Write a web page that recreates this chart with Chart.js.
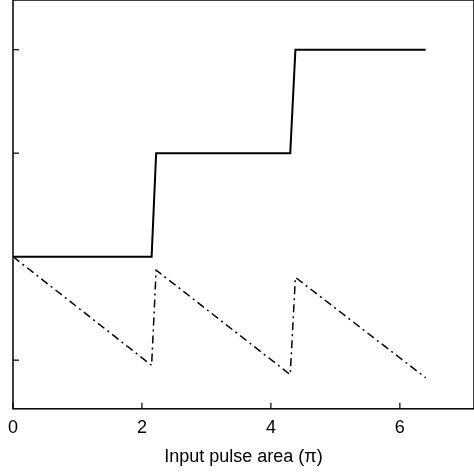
<!DOCTYPE html>
<html><head><meta charset="utf-8">
<script src="https://cdn.jsdelivr.net/npm/chart.js@4/dist/chart.umd.min.js"></script>
<style>html,body{margin:0;background:#fff}#wrap{width:474px;height:474px}</style>
</head><body><div id="wrap"><canvas id="c"></canvas></div>
<script>
const solidX = [0, 2.15, 2.22, 4.3, 4.38, 6.4];
const solidY = [1, 1, 2, 2, 3, 3];
const dashX = [0, 2.15, 2.22, 4.3, 4.38, 6.4];
const dashY = [1, -0.05, 0.87, -0.14, 0.8, -0.17];
const xTicks = [0, 2, 4, 6];
const yTicks = [0, 1, 2, 3];

const pts = (xs, ys) => xs.map((x, i) => ({ x, y: ys[i] }));

const boxPlugin = {
  id: "box",
  afterDraw(c) {
    const a = c.chartArea, ctx = c.ctx;
    ctx.save();
    ctx.strokeStyle = "#000";
    ctx.lineWidth = 1.5;
    ctx.strokeRect(a.left, a.top, a.right - a.left, a.bottom - a.top);
    ctx.restore();
  }
};

new Chart(document.getElementById("c"), {
  type: "scatter",
  data: { datasets: [
    { data: pts(solidX, solidY), showLine: true, borderColor: "#000", borderWidth: 2, pointRadius: 0 },
    { data: pts(dashX, dashY), showLine: true, borderColor: "#000", borderWidth: 1.5, borderDash: [8, 4, 2, 4], pointRadius: 0 }
  ]},
  options: {
    animation: false,
    responsive: true,
    maintainAspectRatio: false,
    layout: { padding: { left: 10, top: 0, right: -2, bottom: 0 } },
    plugins: { legend: { display: false }, tooltip: { enabled: false } },
    scales: {
      x: {
        type: "linear", min: 0, max: 7.15,
        afterBuildTicks: s => { s.ticks = xTicks.map(v => ({ value: v })); },
        grid: { display: false, drawTicks: false },
        border: { display: false },
        ticks: { color: "#000", font: { family: "Liberation Sans", size: 18 }, padding: 8 },
        title: { display: true, text: "Input pulse area (\u03c0)", color: "#000", font: { family: "Liberation Sans", size: 18 }, padding: { top: 0, bottom: 6 } }
      },
      y: {
        type: "linear", min: -0.47, max: 3.48,
        afterBuildTicks: s => { s.ticks = yTicks.map(v => ({ value: v })); },
        grid: { display: false, drawTicks: false },
        border: { display: false },
        ticks: { display: false }
      }
    }
  },
  plugins: [boxPlugin, {
    id: "tickmarks",
    afterDraw(c) {
      const ctx = c.ctx, a = c.chartArea, ys = c.scales.y, xs = c.scales.x;
      ctx.save(); ctx.strokeStyle = "#000"; ctx.lineWidth = 1.2;
      yTicks.forEach(v => { const p = ys.getPixelForValue(v); ctx.beginPath(); ctx.moveTo(a.left, p); ctx.lineTo(a.left + 6, p); ctx.stroke(); });
      xTicks.forEach(v => { const p = xs.getPixelForValue(v); ctx.beginPath(); ctx.moveTo(p, a.bottom); ctx.lineTo(p, a.bottom - 6); ctx.stroke(); });
      ctx.restore();
    }
  }]
});
</script></body></html>
